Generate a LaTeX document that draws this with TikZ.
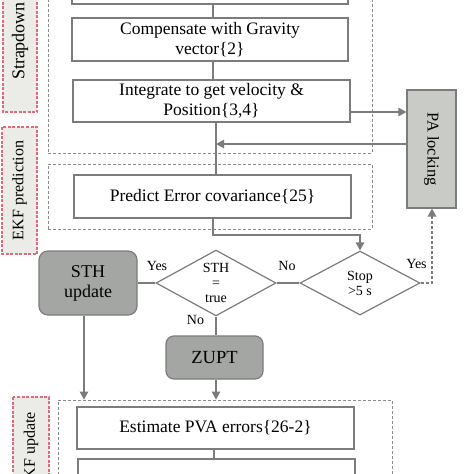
\documentclass[tikz,border=0pt]{standalone}
\usepackage{fontspec}
\setmainfont{Liberation Serif}
\usetikzlibrary{shapes.geometric,arrows.meta,calc}
\definecolor{lg}{HTML}{7C7C7C}
\definecolor{dg}{HTML}{A3A6A2}
\definecolor{pg}{HTML}{C9CBC7}
\definecolor{lf}{HTML}{EBEBE7}
\definecolor{rd}{HTML}{E2687A}
\definecolor{dgl}{HTML}{8A8A8A}
\begin{document}
\begin{tikzpicture}[x=1pt,y=-1pt,
  box/.style={draw=lg, line width=1.2pt, fill=white, inner sep=0pt, align=center,
    font=\fontsize{17.5}{19.5}\selectfont},
  rbox/.style={draw=lg, line width=1.2pt, fill=dg, inner sep=0pt, align=center,
    rounded corners=9pt, font=\fontsize{18}{20}\selectfont},
  grp/.style={draw=dgl, line width=0.9pt, dash pattern=on 3pt off 2pt, inner sep=0pt},
  lab/.style={draw=rd, fill=lf, line width=1.2pt, dash pattern=on 3pt off 1.5pt,
    inner sep=0pt, rotate=90, font=\fontsize{16}{18}\selectfont},
  dia/.style={diamond, draw=lg, line width=1.2pt, fill=white, minimum width=120pt,
    minimum height=64pt, inner sep=0pt, align=center, font=\fontsize{14}{15}\selectfont},
  lbl/.style={inner sep=0pt, font=\fontsize{14}{15}\selectfont},
  con/.style={draw=lg, line width=1.2pt},
  arr/.style={draw=lg, line width=1.2pt, -{Triangle[length=8pt,width=8.5pt]}},
]
\useasboundingbox (0,0) rectangle (474,474);
\clip (0,0) rectangle (474,474);
\fill[white] (0,0) rectangle (474,474);

% group frames
\node[grp, minimum width=324pt, minimum height=163pt] (gS) at (210,71.5) {};
\node[grp, minimum width=324pt, minimum height=65pt] (gE) at (210,196.5) {};
\node[grp, minimum width=334pt, minimum height=90pt] (gU) at (225,445) {};

% side labels
\node[lab, minimum width=142pt, minimum height=34pt, font=\fontsize{18}{20}\selectfont] (lS) at (20,41) {Strapdown};
\node[lab, minimum width=127pt, minimum height=35pt] (lE) at (19.5,190.5) {EKF prediction};
\node[lab, minimum width=107pt, minimum height=36pt] (lU) at (31,450.5) {EKF update};

% boxes
\node[box, minimum width=276pt, minimum height=34pt] (top) at (210,-13) {};
\node[box, minimum width=276pt, minimum height=43pt] (comp) at (210,39.5) {Compensate with Gravity\\vector\{2\}};
\node[box, minimum width=277pt, minimum height=42pt] (integ) at (211.5,101) {Integrate to get velocity \&\\Position\{3,4\}};
\node[box, minimum width=277pt, minimum height=43pt] (pred) at (212.5,196.5) {Predict Error covariance\{25\}};
\node[box, fill=pg, minimum width=49pt, minimum height=118pt] (pa) at (431.5,149) {};
\node[rotate=-90, font=\fontsize{16.5}{18}\selectfont, inner sep=0pt] (patext) at (pa.center) {PA locking};
\node[dia] (sth) at (216,283) {STH\\=\\true};
\node[dia] (stop) at (360,283) {Stop\\>5 s};
\node[rbox, minimum width=98pt, minimum height=64pt] (sthu) at (88,283) {STH\\update};
\node[rbox, rounded corners=8pt, minimum width=97pt, minimum height=43pt, font=\fontsize{18.5}{20}\selectfont] (zupt) at (214.5,357.5) {ZUPT};
\node[box, minimum width=277pt, minimum height=42pt] (est) at (215.5,428) {Estimate PVA errors\{26-2\}};
\node[box, minimum width=277pt, minimum height=42pt] (nxt) at (216.5,480) {};

% labels on connectors
\node[lbl] (y1) at (157,266) {Yes};
\node[lbl] (n1) at (195.5,320) {No};
\node[lbl] (n2) at (287,266) {No};
\node[lbl] (y2) at (416.5,264) {Yes};

% connectors
\coordinate (xa) at (213,0);
\coordinate (xb) at (214,0);
\coordinate (xs) at (84,0);
\coordinate (fbk) at (216,144);
\coordinate (a1) at ($(integ.east)+(0,11)$);
\coordinate (b1) at (213,235);
\coordinate (d1) at (432,283);

\draw[con] (top.south -| xa) -- (comp.north -| xa);
\draw[con] (comp.south -| xa) -- (integ.north -| xa);
\draw[con] (integ.south -| fbk) -- (pred.north -| fbk);
\draw[arr] (a1) -- (a1 -| pa.west);
\draw[arr] (pa.west |- fbk) -- (fbk);
\draw[arr] (pred.south -| b1) -- (b1) -- (b1 -| stop.north) -- (stop.north);
\draw[arr, dash pattern=on 3pt off 2pt] (stop.east) -- (d1) -- (d1 |- pa.south);
\draw[con] (sth.east) -- (stop.west);
\draw[con] (sth.west) -- (sthu.east);
\draw[con] (sth.south) -- (sth.south |- zupt.north);
\draw[arr] (sthu.south -| xs) -- (gU.north -| xs);
\draw[arr] (zupt.south -| fbk) -- (gU.north -| fbk);
\draw[con] (est.south -| xb) -- (nxt.north -| xb);
\end{tikzpicture}
\end{document}
